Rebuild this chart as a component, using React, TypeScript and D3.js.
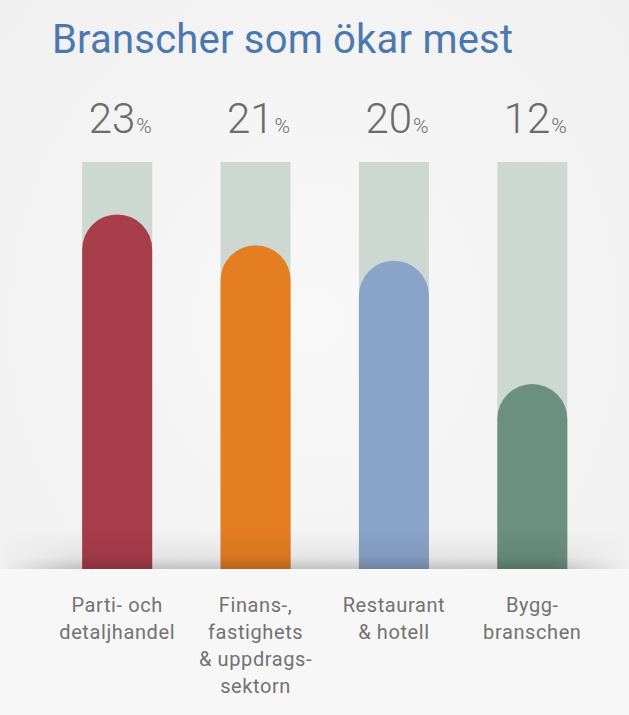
import * as React from 'react'
import { useEffect, useRef } from 'react'
import * as d3 from 'd3'

const title = 'Branscher som ökar mest'
const categories = ['parti', 'finans', 'restaurant', 'bygg']
const labelLines = [
  ['Parti- och', 'detaljhandel'],
  ['Finans-,', 'fastighets', '& uppdrags-', 'sektorn'],
  ['Restaurant', '& hotell'],
  ['Bygg-', 'branschen'],
]
const values = [23, 21, 20, 12]
const colors = ['#a83d4a', '#e57d23', '#8aa3c8', '#6b8f80']
const trackMax = 26.4

export default function App() {
  const svgRef = useRef<SVGSVGElement>(null)
  const width = 629
  const height = 715

  useEffect(() => {
    if (!svgRef.current) return
    const svg = d3.select(svgRef.current)
    svg.selectAll('*').remove()

    const baseline = 569
    const trackTop = 162

    const defs = svg.append('defs')

    const bgGrad = defs.append('radialGradient')
      .attr('id', 'bg-grad')
      .attr('cx', '50%').attr('cy', '45%').attr('r', '75%')
    bgGrad.append('stop').attr('offset', '0%').attr('stop-color', '#f8f8f8')
    bgGrad.append('stop').attr('offset', '100%').attr('stop-color', '#efefef')

    const shadowGrad = defs.append('linearGradient')
      .attr('id', 'shadow-v')
      .attr('x1', 0).attr('x2', 0).attr('y1', 0).attr('y2', 1)
    shadowGrad.append('stop').attr('offset', '0%').attr('stop-color', '#000').attr('stop-opacity', 0)
    shadowGrad.append('stop').attr('offset', '70%').attr('stop-color', '#000').attr('stop-opacity', 0.06)
    shadowGrad.append('stop').attr('offset', '100%').attr('stop-color', '#000').attr('stop-opacity', 0.2)

    const fadeGrad = defs.append('linearGradient')
      .attr('id', 'shadow-h')
      .attr('x1', 0).attr('x2', 1).attr('y1', 0).attr('y2', 0)
    fadeGrad.append('stop').attr('offset', '0%').attr('stop-color', '#fff').attr('stop-opacity', 0)
    fadeGrad.append('stop').attr('offset', '12%').attr('stop-color', '#fff').attr('stop-opacity', 1)
    fadeGrad.append('stop').attr('offset', '88%').attr('stop-color', '#fff').attr('stop-opacity', 1)
    fadeGrad.append('stop').attr('offset', '100%').attr('stop-color', '#fff').attr('stop-opacity', 0)

    defs.append('mask').attr('id', 'shadow-mask')
      .attr('maskContentUnits', 'userSpaceOnUse')
      .append('rect')
      .attr('x', 0).attr('y', 0).attr('width', width).attr('height', height)
      .attr('fill', 'url(#shadow-h)')

    // Background
    svg.append('rect')
      .attr('width', width).attr('height', height)
      .attr('fill', 'url(#bg-grad)')
    svg.append('rect')
      .attr('y', baseline).attr('width', width).attr('height', height - baseline)
      .attr('fill', '#f7f7f7')

    // Title
    svg.append('text')
      .attr('x', 52)
      .attr('y', 53)
      .attr('font-family', 'Roboto, sans-serif')
      .attr('font-size', '40px')
      .attr('letter-spacing', '0.2px')
      .attr('fill', '#4c78b0')
      .text(title)

    const xScale = d3.scaleBand<string>()
      .domain(categories)
      .range([48, 601.5])
      .paddingInner(0.494)
      .paddingOuter(0.247)

    const yScale = d3.scaleLinear()
      .domain([0, trackMax])
      .range([baseline, trackTop])

    const bw = xScale.bandwidth()
    const r = bw / 2

    categories.forEach((c, i) => {
      const x0 = xScale(c)!
      const x1 = x0 + bw
      const cx = x0 + r
      const g = svg.append('g')

      // Track
      g.append('rect')
        .attr('x', x0)
        .attr('y', yScale(trackMax))
        .attr('width', bw)
        .attr('height', baseline - yScale(trackMax))
        .attr('fill', '#cdd8d3')

      // Rounded bar
      const top = yScale(values[i])
      const path = d3.path()
      path.moveTo(x0, baseline)
      path.lineTo(x0, top + r)
      path.arc(cx, top + r, r, Math.PI, 0)
      path.lineTo(x1, baseline)
      path.closePath()
      g.append('path')
        .attr('d', path.toString())
        .attr('fill', colors[i])

      // Value label
      const vt = g.append('text')
        .attr('x', cx + 3)
        .attr('y', 133)
        .attr('text-anchor', 'middle')
        .attr('font-family', 'Roboto, sans-serif')
        .attr('font-weight', 300)
        .attr('fill', '#6b6b6b')
      vt.append('tspan').attr('font-size', '42px').text(String(values[i]))
      vt.append('tspan').attr('font-size', '21px').attr('dx', 1).text('%')

      // Category label
      labelLines[i].forEach((line, j) => {
        g.append('text')
          .attr('x', cx)
          .attr('y', 612 + j * 27)
          .attr('text-anchor', 'middle')
          .attr('font-family', 'Roboto, sans-serif')
          .attr('font-size', '20px')
          .attr('letter-spacing', '0.6px')
          .attr('fill', '#727272')
          .text(line)
      })
    })

    // Floor shadow over the bar bottoms
    svg.append('rect')
      .attr('x', 0)
      .attr('y', baseline - 40)
      .attr('width', width)
      .attr('height', 40)
      .attr('fill', 'url(#shadow-v)')
      .attr('mask', 'url(#shadow-mask)')
  }, [])

  return (
    <svg
      ref={svgRef}
      width={width}
      height={height}
      style={{ position: 'absolute', left: 0, top: 0, display: 'block' }}
    />
  )
}
